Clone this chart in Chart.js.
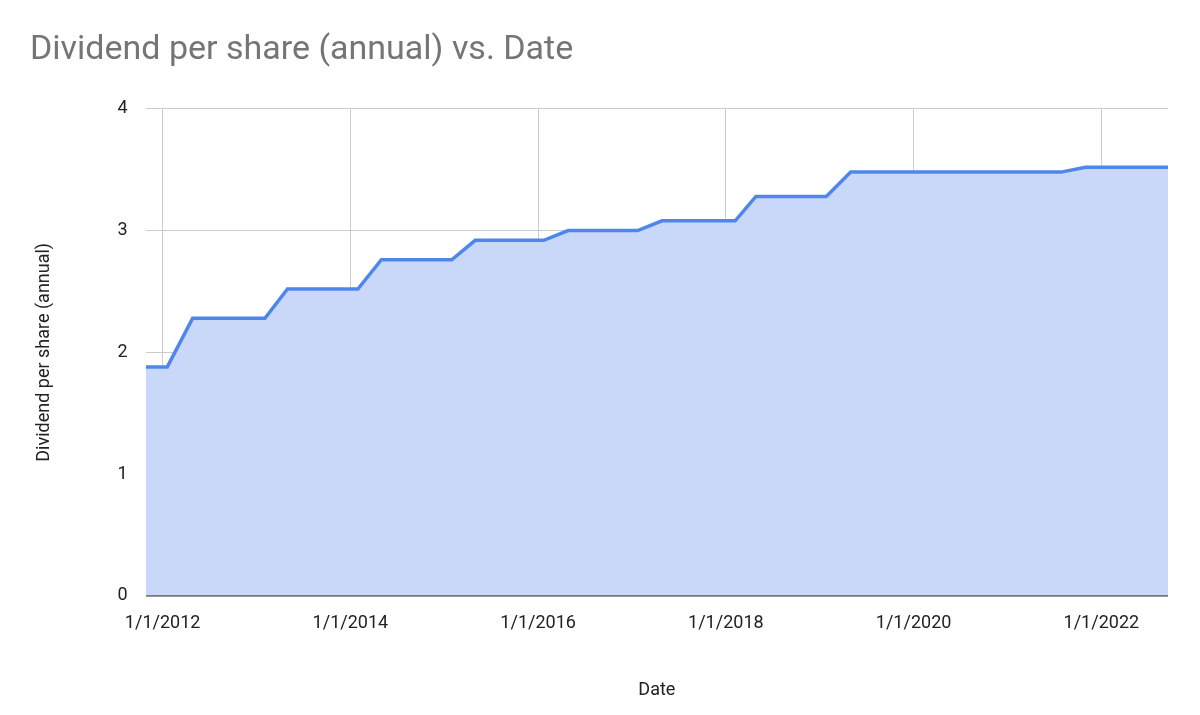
<!DOCTYPE html>
<html><head><meta charset="utf-8">
<script src="https://cdn.jsdelivr.net/npm/chart.js@4"></script>
<style>html,body{margin:0;background:#fff}#w{width:1200px;height:715px}</style>
</head><body><div id="w"><canvas id="c"></canvas></div>
<script>
const dates = [2011.82,2012.05,2012.32,2013.09,2013.33,2014.08,2014.33,2015.08,2015.33,2016.06,2016.32,2017.06,2017.32,2018.10,2018.32,2019.07,2019.33,2021.57,2021.83,2022.71];
const dividends = [1.88,1.88,2.28,2.28,2.52,2.52,2.76,2.76,2.92,2.92,3.00,3.00,3.08,3.08,3.28,3.28,3.48,3.48,3.52,3.52];
const xTickYears = [2012,2014,2016,2018,2020,2022];
const yTicks = [0,1,2,3,4];
const font = "Roboto, Arial, sans-serif";
new Chart(document.getElementById('c'), {
  type: 'line',
  data: { datasets: [{ data: dates.map((d,i)=>({x:d,y:dividends[i]})), borderColor:'#4f86ec', backgroundColor:'#c9d8f8', fill:'origin', borderWidth:3.5, pointRadius:0, tension:0 }] },
  options: {
    responsive:true, maintainAspectRatio:false, animation:false,
    layout:{padding:{left:30,right:32,top:20,bottom:10}},
    plugins:{ legend:{display:false}, tooltip:{enabled:false},
      title:{display:true, text:'Dividend per share (annual) vs. Date', align:'start', color:'#757575', font:{family:font,size:34,weight:'normal'}, padding:{top:10,bottom:38}} },
    scales:{
      x:{ type:'linear', min:2011.82, max:2022.71,
        afterBuildTicks: s=>{ s.ticks = xTickYears.map(v=>({value:v})); },
        ticks:{ callback:v=>'1/1/'+v, color:'#222', font:{family:font,size:18}, maxRotation:0, padding:17 },
        grid:{ color:'#cccccc', drawTicks:false }, border:{display:false},
        title:{display:true, text:'Date', color:'#222', font:{family:font,size:18}, padding:{top:28}} },
      y:{ min:0, max:4,
        afterBuildTicks: s=>{ s.ticks = yTicks.map(v=>({value:v})); },
        ticks:{ color:'#222', font:{family:font,size:18}, padding:18 },
        grid:{ color:c=>c.tick.value===0?'#333':'#cccccc', drawTicks:false, lineWidth:c=>c.tick.value===0?1.5:1 }, border:{display:false},
        title:{display:true, text:'Dividend per share (annual)', color:'#222', font:{family:font,size:18}, padding:{bottom:44}} }
    }
  }
});
</script></body></html>
